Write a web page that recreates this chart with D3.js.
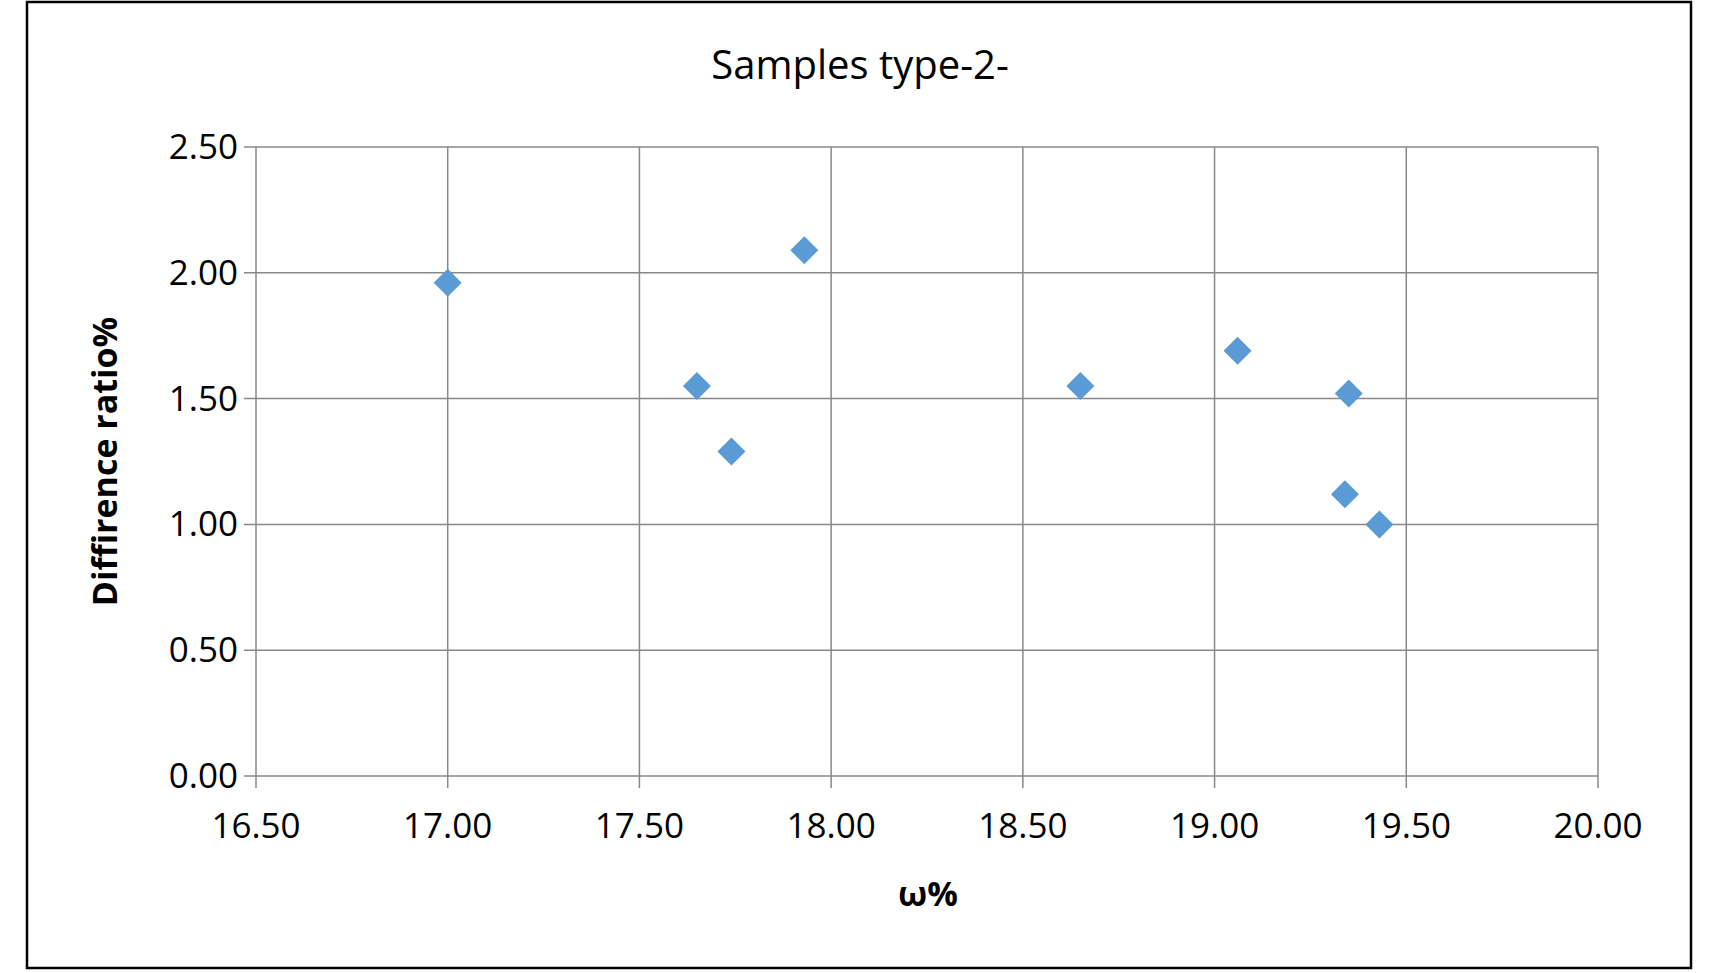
<!DOCTYPE html>
<html><head><meta charset="utf-8">
<script src="https://cdn.jsdelivr.net/npm/d3@7"></script>
<style>body{margin:0;background:#fff}svg{font-family:"Open Sans",sans-serif}</style>
</head><body><svg id="c" width="1724" height="973"></svg>
<script>
const omega = [17.00, 17.65, 17.74, 17.93, 18.65, 19.06, 19.35, 19.34, 19.43];
const ratio = [1.96, 1.55, 1.29, 2.09, 1.55, 1.69, 1.52, 1.12, 1.00];
const xTicks = [16.5, 17, 17.5, 18, 18.5, 19, 19.5, 20];
const yTicks = [0, 0.5, 1, 1.5, 2, 2.5];

const svg = d3.select('#c');
svg.append('rect').attr('x', 27).attr('y', 2).attr('width', 1664).attr('height', 966)
	.attr('fill', '#fff').attr('stroke', '#000').attr('stroke-width', 2.5);

const x = d3.scaleLinear().domain([16.5, 20]).range([256, 1598]);
const y = d3.scaleLinear().domain([0, 2.5]).range([776, 147]);

// grid
svg.append('g').selectAll('line').data(xTicks).join('line')
	.attr('x1', d => x(d)).attr('x2', d => x(d)).attr('y1', y(2.5)).attr('y2', y(0) + 12)
	.attr('stroke', '#888').attr('stroke-width', 1.5);
svg.append('g').selectAll('line').data(yTicks).join('line')
	.attr('x1', x(16.5) - 12).attr('x2', x(20)).attr('y1', d => y(d)).attr('y2', d => y(d))
	.attr('stroke', '#888').attr('stroke-width', 1.5);

// tick labels
svg.append('g').selectAll('text').data(xTicks).join('text')
	.attr('x', d => x(d)).attr('y', y(0) + 62).attr('text-anchor', 'middle')
	.attr('font-size', 35).text(d => d.toFixed(2));
svg.append('g').selectAll('text').data(yTicks).join('text')
	.attr('x', x(16.5) - 18).attr('y', d => y(d) + 12).attr('text-anchor', 'end')
	.attr('font-size', 35).text(d => d.toFixed(2));

// titles
svg.append('text').attr('x', 860).attr('y', 79).attr('text-anchor', 'middle')
	.attr('font-size', 40).text('Samples type-2-');
svg.append('text').attr('x', 928).attr('y', 906).attr('text-anchor', 'middle')
	.attr('font-size', 34).attr('font-weight', 'bold').text('ω%');
svg.append('text').attr('transform', `translate(117,${(y(0) + y(2.5)) / 2}) rotate(-90)`)
	.attr('text-anchor', 'middle').attr('font-size', 34).attr('font-weight', 'bold')
	.text('Diffirence ratio%');

// points
svg.append('g').selectAll('path').data(omega).join('path')
	.attr('d', d3.symbol(d3.symbolDiamond2, 500))
	.attr('transform', (d, i) => `translate(${x(d)},${y(ratio[i])})`)
	.attr('fill', '#5b9bd5');
</script></body></html>
